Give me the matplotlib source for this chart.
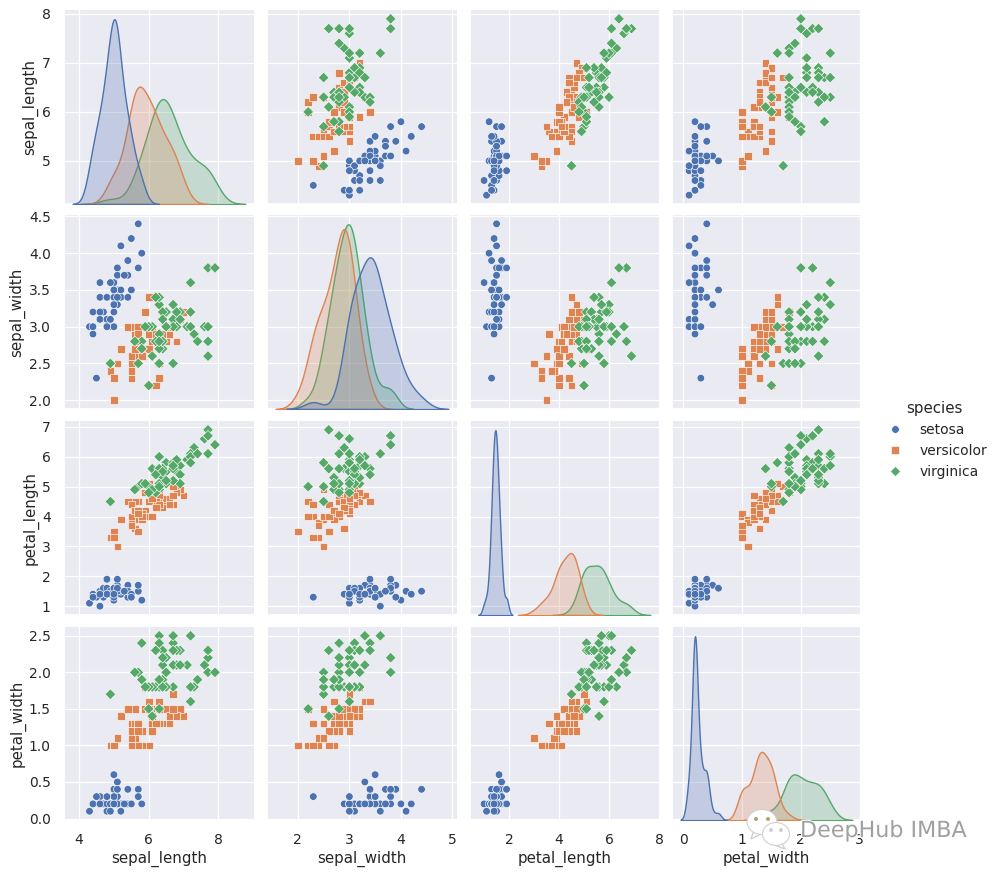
import pandas as pd
import matplotlib
matplotlib.use("Agg")
import matplotlib.pyplot as plt
import matplotlib.patheffects as pe
from matplotlib.patches import Ellipse, Polygon
from matplotlib.ticker import MultipleLocator
import seaborn as sns

# Values per species, in the order setosa / versicolor / virginica
setosa_sepal_length = [5.1,4.9,4.7,4.6,5.0,5.4,4.6,5.0,4.4,4.9,5.4,4.8,4.8,4.3,5.8,5.7,5.4,5.1,5.7,5.1,5.4,5.1,4.6,5.1,4.8,5.0,5.0,5.2,5.2,4.7,4.8,5.4,5.2,5.5,4.9,5.0,5.5,4.9,4.4,5.1,5.0,4.5,4.4,5.0,5.1,4.8,5.1,4.6,5.3,5.0]
setosa_sepal_width = [3.5,3.0,3.2,3.1,3.6,3.9,3.4,3.4,2.9,3.1,3.7,3.4,3.0,3.0,4.0,4.4,3.9,3.5,3.8,3.8,3.4,3.7,3.6,3.3,3.4,3.0,3.4,3.5,3.4,3.2,3.1,3.4,4.1,4.2,3.1,3.2,3.5,3.6,3.0,3.4,3.5,2.3,3.2,3.5,3.8,3.0,3.8,3.2,3.7,3.3]
setosa_petal_length = [1.4,1.4,1.3,1.5,1.4,1.7,1.4,1.5,1.4,1.5,1.5,1.6,1.4,1.1,1.2,1.5,1.3,1.4,1.7,1.5,1.7,1.5,1.0,1.7,1.9,1.6,1.6,1.5,1.4,1.6,1.6,1.5,1.5,1.4,1.5,1.2,1.3,1.4,1.3,1.5,1.3,1.3,1.3,1.6,1.9,1.4,1.6,1.4,1.5,1.4]
setosa_petal_width = [0.2,0.2,0.2,0.2,0.2,0.4,0.3,0.2,0.2,0.1,0.2,0.2,0.1,0.1,0.2,0.4,0.4,0.3,0.3,0.3,0.2,0.4,0.2,0.5,0.2,0.2,0.4,0.2,0.2,0.2,0.2,0.4,0.1,0.2,0.2,0.2,0.2,0.1,0.2,0.2,0.3,0.3,0.2,0.6,0.4,0.3,0.2,0.2,0.2,0.2]

versicolor_sepal_length = [7.0,6.4,6.9,5.5,6.5,5.7,6.3,4.9,6.6,5.2,5.0,5.9,6.0,6.1,5.6,6.7,5.6,5.8,6.2,5.6,5.9,6.1,6.3,6.1,6.4,6.6,6.8,6.7,6.0,5.7,5.5,5.5,5.8,6.0,5.4,6.0,6.7,6.3,5.6,5.5,5.5,6.1,5.8,5.0,5.6,5.7,5.7,6.2,5.1,5.7]
versicolor_sepal_width = [3.2,3.2,3.1,2.3,2.8,2.8,3.3,2.4,2.9,2.7,2.0,3.0,2.2,2.9,2.9,3.1,3.0,2.7,2.2,2.5,3.2,2.8,2.5,2.8,2.9,3.0,2.8,3.0,2.9,2.6,2.4,2.4,2.7,2.7,3.0,3.4,3.1,2.3,3.0,2.5,2.6,3.0,2.6,2.3,2.7,3.0,2.9,2.9,2.5,2.8]
versicolor_petal_length = [4.7,4.5,4.9,4.0,4.6,4.5,4.7,3.3,4.6,3.9,3.5,4.2,4.0,4.7,3.6,4.4,4.5,4.1,4.5,3.9,4.8,4.0,4.9,4.7,4.3,4.4,4.8,5.0,4.5,3.5,3.8,3.7,3.9,5.1,4.5,4.5,4.7,4.4,4.1,4.0,4.4,4.6,4.0,3.3,4.2,4.2,4.2,4.3,3.0,4.1]
versicolor_petal_width = [1.4,1.5,1.5,1.3,1.5,1.3,1.6,1.0,1.3,1.4,1.0,1.5,1.0,1.4,1.3,1.4,1.5,1.0,1.5,1.1,1.8,1.3,1.5,1.2,1.3,1.4,1.4,1.7,1.5,1.0,1.1,1.0,1.2,1.6,1.5,1.6,1.5,1.3,1.3,1.3,1.2,1.4,1.2,1.0,1.3,1.2,1.3,1.3,1.1,1.3]

virginica_sepal_length = [6.3,5.8,7.1,6.3,6.5,7.6,4.9,7.3,6.7,7.2,6.5,6.4,6.8,5.7,5.8,6.4,6.5,7.7,7.7,6.0,6.9,5.6,7.7,6.3,6.7,7.2,6.2,6.1,6.4,7.2,7.4,7.9,6.4,6.3,6.1,7.7,6.3,6.4,6.0,6.9,6.7,6.9,5.8,6.8,6.7,6.7,6.3,6.5,6.2,5.9]
virginica_sepal_width = [3.3,2.7,3.0,2.9,3.0,3.0,2.5,2.9,2.5,3.6,3.2,2.7,3.0,2.5,2.8,3.2,3.0,3.8,2.6,2.2,3.2,2.8,2.8,2.7,3.3,3.2,2.8,3.0,2.8,3.0,2.8,3.8,2.8,2.8,2.6,3.0,3.4,3.1,3.0,3.1,3.1,3.1,2.7,3.2,3.3,3.0,2.5,3.0,3.4,3.0]
virginica_petal_length = [6.0,5.1,5.9,5.6,5.8,6.6,4.5,6.3,5.8,6.1,5.1,5.3,5.5,5.0,5.1,5.3,5.5,6.7,6.9,5.0,5.7,4.9,6.7,4.9,5.7,6.0,4.8,4.9,5.6,5.8,6.1,6.4,5.6,5.1,5.6,6.1,5.6,5.5,4.8,5.4,5.6,5.1,5.1,5.9,5.7,5.2,5.0,5.2,5.4,5.1]
virginica_petal_width = [2.5,1.9,2.1,1.8,2.2,2.1,1.7,1.8,1.8,2.5,2.0,1.9,2.1,2.0,2.4,2.3,1.8,2.2,2.3,1.5,2.3,2.0,2.0,1.8,2.1,1.8,1.8,1.8,2.1,1.6,1.9,2.0,2.2,1.5,1.4,2.3,2.4,1.8,1.8,2.1,2.4,2.3,1.9,2.3,2.5,2.3,1.9,2.0,2.3,1.8]

species_names = ["setosa", "versicolor", "virginica"]

df = pd.DataFrame({
    "sepal_length": setosa_sepal_length + versicolor_sepal_length + virginica_sepal_length,
    "sepal_width": setosa_sepal_width + versicolor_sepal_width + virginica_sepal_width,
    "petal_length": setosa_petal_length + versicolor_petal_length + virginica_petal_length,
    "petal_width": setosa_petal_width + versicolor_petal_width + virginica_petal_width,
    "species": [s for s in species_names for _ in range(50)],
})

sns.set_theme(rc={
    "axes.labelsize": 10.8,
    "axes.labelpad": 2.5,
    "xtick.labelsize": 10,
    "ytick.labelsize": 10,
    "legend.fontsize": 10,
    "legend.title_fontsize": 10.8,
    "grid.linewidth": 0.9,
    "lines.linewidth": 1.35,
})

g = sns.pairplot(df, hue="species", markers=["o", "s", "D"], plot_kws={"s": 30})
fig = g.figure
fig.set_size_inches(10, 8.76)

# Position the grid by hand so it lines up with the original image
lefts = [64, 267, 469.5, 672]
rights = [254, 457, 659, 861]
tops = [10, 215, 421, 627]
bottoms = [204, 409, 615, 820]
for i in range(4):
    for j in range(4):
        g.axes[i, j].set_position([lefts[j] / 1000, 1 - bottoms[i] / 876,
                                   (rights[j] - lefts[j]) / 1000, (bottoms[i] - tops[i]) / 876])

# petal_length row has a tick at every integer
g.axes[2, 0].yaxis.set_major_locator(MultipleLocator(1))

g._legend.set_bbox_to_anchor((1.0, 0.498))

# Watermark from the source image
def bubble(cx, cy, w, h, tail):
    xy = [((cx + dx) / 1000, 1 - (cy + dy) / 876) for dx, dy in tail]
    fig.add_artist(Polygon(xy, transform=fig.transFigure, facecolor="white",
                           edgecolor="#c8c8c8", linewidth=0.8, zorder=5))
    fig.add_artist(Ellipse((cx / 1000, 1 - cy / 876), w / 1000, h / 876, transform=fig.transFigure,
                           facecolor="white", edgecolor="#d0d0d0", linewidth=0.8, zorder=5))

def eye(cx, cy, color):
    fig.add_artist(Ellipse((cx / 1000, 1 - cy / 876), 4 / 1000, 4 / 876, transform=fig.transFigure,
                           facecolor=color, edgecolor="none", zorder=6))

bubble(762, 822, 30, 25, [(-8, 8), (-11, 17), (-1, 12)])
eye(756, 819, "#b8a070")
eye(768, 819, "#b8a070")
bubble(776, 834, 27, 23, [(5, 8), (9, 15), (-2, 11)])
eye(771, 830, "#cfcfcf")
eye(781, 830, "#cfcfcf")

fig.text(0.8, 1 - 837 / 876, "DeepHub IMBA", fontsize=16, color="#a0a0a0", zorder=7,
         path_effects=[pe.withStroke(linewidth=1.5, foreground="white")])

plt.savefig("out.png", dpi=100)
